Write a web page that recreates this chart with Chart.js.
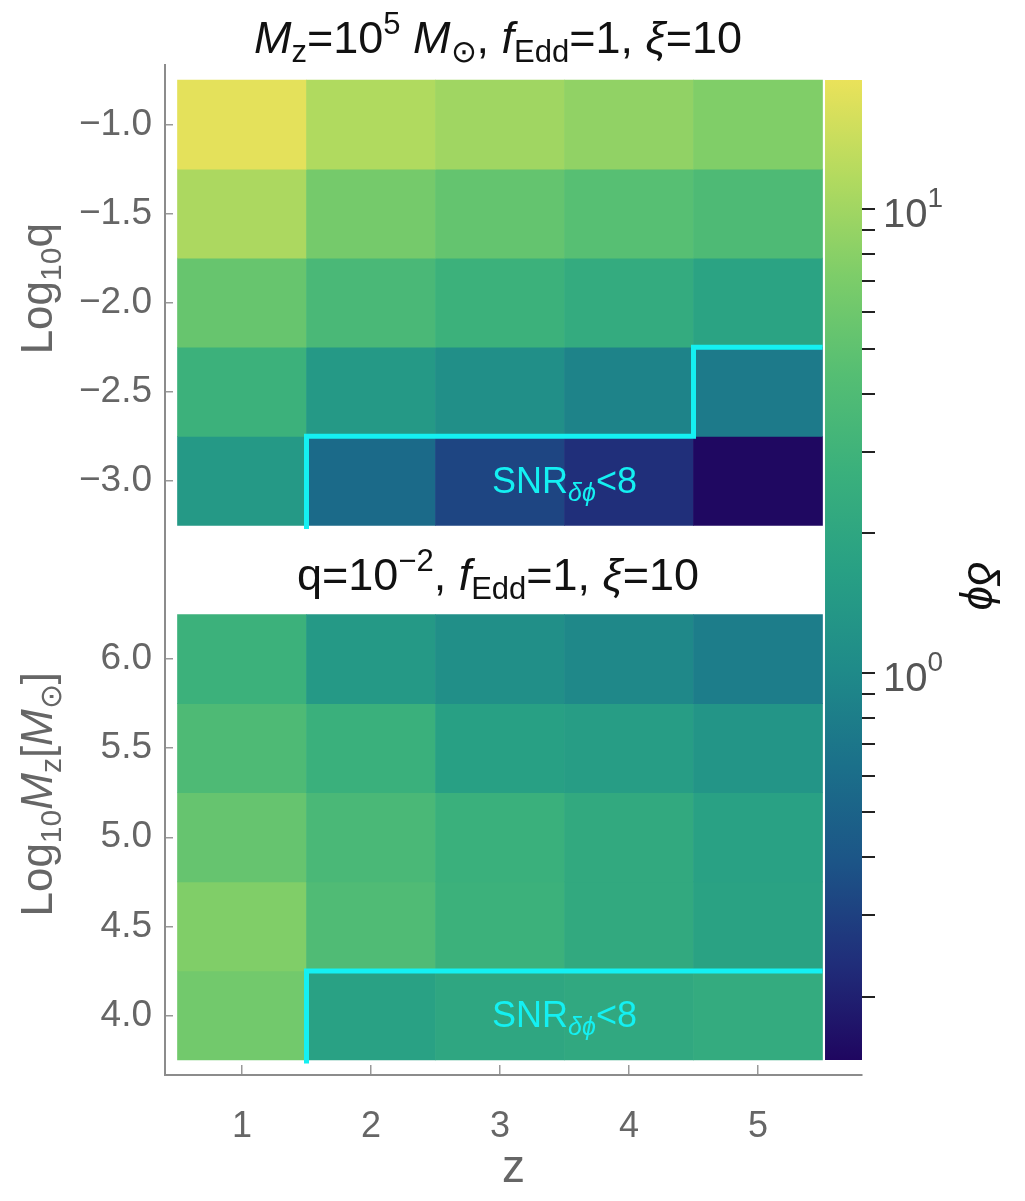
<!DOCTYPE html>
<html>
<head>
<meta charset="utf-8">
<script src="https://cdn.jsdelivr.net/npm/chart.js@4.4.1/dist/chart.umd.min.js"></script>
<style>
  html, body { margin: 0; padding: 0; background: #fff; }
</style>
</head>
<body>
<canvas id="chart" width="1025" height="1201"></canvas>
<script>
var redshifts = [1, 2, 3, 4, 5];
var logQ = [-1.0, -1.5, -2.0, -2.5, -3.0];
var logMass = [6.0, 5.5, 5.0, 4.5, 4.0];

// delta phi, Mz = 1e5 Msun (rows follow logQ, columns follow redshifts)
var dphiQ = [
    [18.0, 11.5, 9.9, 8.6, 7.4],
    [11.0, 6.5, 5.3, 4.5, 3.9],
    [5.5, 3.6, 2.8, 2.3, 1.8],
    [2.8, 1.43, 1.12, 0.88, 0.76],
    [1.43, 0.57, 0.32, 0.24, 0.15]
];
// delta phi, q = 1e-2 (rows follow logMass)
var dphiM = [
    [2.8, 1.43, 1.12, 0.97, 0.80],
    [3.9, 2.7, 1.65, 1.55, 1.3],
    [5.4, 3.6, 2.7, 2.2, 1.7],
    [7.4, 4.0, 2.8, 2.2, 1.75],
    [6.3, 1.7, 2.0, 2.1, 2.3]
];

// highest row with SNR < 8 for each redshift (null: none)
var snrCutQ = [null, -3.0, -3.0, -3.0, -2.5];
var snrCutM = [null, 4.0, 4.0, 4.0, 4.0];

var colorMin = 0.146, colorMax = 19.0;
var colorTicks = [0.2, 0.3, 0.4, 0.5, 0.6, 0.7, 0.8, 0.9, 1, 2, 3, 4, 5, 6, 7, 8, 9, 10];
var colorLabels = [1, 10];

var FONT = '"Liberation Sans", Arial, Helvetica, sans-serif';
var mapStops = ['#1f0660', '#202e7a', '#1c5487', '#1b708a', '#1f8b89', '#28a084',
                '#3ab07c', '#55be73', '#7dcd69', '#b2da5f', '#eae25a'];
var CYAN = '#14f0f2';
var cbarX = 5.663;   // colorbar centre on the z axis, just right of the heatmaps

function hexRgb(h) {
    return [parseInt(h.substr(1, 2), 16), parseInt(h.substr(3, 2), 16), parseInt(h.substr(5, 2), 16)];
}

function colorFor(v) {
    var t = (Math.log10(v) - Math.log10(colorMin)) / (Math.log10(colorMax) - Math.log10(colorMin));
    t = Math.max(0, Math.min(1, t)) * (mapStops.length - 1);
    var i = Math.min(Math.floor(t), mapStops.length - 2), f = t - i;
    var a = hexRgb(mapStops[i]), b = hexRgb(mapStops[i + 1]);
    return 'rgb(' + [0, 1, 2].map(function(k) { return Math.round(a[k] + (b[k] - a[k]) * f); }).join(',') + ')';
}

// both panels share one slot axis: 5 rows, one blank row, 5 rows
function posQ(q) { return (logQ[0] - q) / 0.5 + 0.5; }
function posM(m) { return logQ.length + 1 + (logMass[0] - m) / 0.5 + 0.5; }

var slotCount = logQ.length + 1 + logMass.length;
var slotPad = slotCount * 15 / 980;
var decPad = (Math.log10(colorMax) - Math.log10(colorMin)) * 15 / 980;

function fmt(v) { return (v < 0 ? '\u2212' : '') + Math.abs(v).toFixed(1); }
var yTickPos = logQ.map(posQ).concat(logMass.map(posM));
var yTickText = logQ.map(fmt).concat(logMass.map(fmt));

function rowDatasets(rows, values, posFn) {
    return rows.map(function(r, i) {
        var p = posFn(r);
        return {
            type: 'bar',
            order: 2,
            xAxisID: 'x',
            yAxisID: 'y',
            data: redshifts.map(function(z) { return { x: z, y: [p - 0.5, p + 0.5] }; }),
            backgroundColor: values[i].map(colorFor),
            borderWidth: 0,
            grouped: false,
            categoryPercentage: 1,
            barPercentage: 1
        };
    });
}

function contour(cuts, posFn, lastRow) {
    var pts = [];
    cuts.forEach(function(c, i) {
        if (c === null) return;
        var e = posFn(c) - 0.5;
        if (!pts.length) pts.push({ x: redshifts[i] - 0.5, y: posFn(lastRow) + 0.54 });
        pts.push({ x: redshifts[i] - 0.5, y: e }, { x: redshifts[i] + 0.5, y: e });
    });
    return pts;
}

function lineSet(pts) {
    return {
        type: 'line', order: 0, xAxisID: 'x', yAxisID: 'y', data: pts,
        borderColor: CYAN, borderWidth: 5, pointRadius: 0, tension: 0,
        fill: false, borderJoinStyle: 'miter', borderCapStyle: 'butt'
    };
}

// colorbar: one thick vertical stroke on the log scale, shaded with the colour map
var colorbarSet = {
    type: 'line', order: 3, xAxisID: 'x', yAxisID: 'yc',
    data: [{ x: cbarX, y: colorMin }, { x: cbarX, y: colorMax }],
    borderWidth: 37, borderCapStyle: 'butt', pointRadius: 0, fill: false,
    borderColor: function(c) {
        var sc = c.chart.scales.yc;
        if (!sc) return mapStops[4];
        var y0 = sc.getPixelForValue(colorMin), y1 = sc.getPixelForValue(colorMax);
        if (!isFinite(y0) || !isFinite(y1) || y0 === y1) return mapStops[4];
        var g = c.chart.ctx.createLinearGradient(0, y0, 0, y1);
        mapStops.forEach(function(s, i) { g.addColorStop(i / (mapStops.length - 1), s); });
        return g;
    }
};

// text pieces: [text, size, italic, dy]
function rich(ctx, parts, x, y, center) {
    var w = 0, widths = [];
    parts.forEach(function(p) {
        ctx.font = (p[2] ? 'italic ' : '') + p[1] + 'px ' + FONT;
        var m = ctx.measureText(p[0]).width;
        widths.push(m);
        w += m;
    });
    var cx = center ? x - w / 2 : x;
    parts.forEach(function(p, i) {
        ctx.font = (p[2] ? 'italic ' : '') + p[1] + 'px ' + FONT;
        ctx.fillText(p[0], cx, y + (p[3] || 0));
        cx += widths[i];
    });
}

var textPlugin = {
    id: 'texts',
    afterDatasetsDraw: function(chart) {
        var ctx = chart.ctx, xs = chart.scales.x, ys = chart.scales.y;
        ctx.save();
        ctx.textAlign = 'left';
        ctx.textBaseline = 'alphabetic';
        ctx.fillStyle = CYAN;
        [[snrCutQ, posQ, logQ], [snrCutM, posM, logMass]].forEach(function(s) {
            var cols = [];
            s[0].forEach(function(c, i) { if (c !== null) cols.push(redshifts[i]); });
            var cx = xs.getPixelForValue((cols[0] + cols[cols.length - 1]) / 2);
            var cy = ys.getPixelForValue(s[1](s[2][s[2].length - 1]));
            rich(ctx, [['SNR', 36], ['\u03b4\u03d5', 25, 1, 8], ['<8', 36]], cx, cy + 12, true);
        });
        ctx.restore();
    },
    afterDraw: function(chart) {
        var ctx = chart.ctx, ys = chart.scales.y, yc = chart.scales.yc;
        ctx.save();
        ctx.textAlign = 'left';
        ctx.textBaseline = 'alphabetic';
        ctx.fillStyle = '#111';
        rich(ctx, [['M', 45, 1], ['z', 31, 0, 9], ['=10', 45], ['5', 31, 0, -19], [' ', 45],
                   ['M', 45, 1], ['\u2299', 31, 0, 9], [', ', 45], ['f', 45, 1], ['Edd', 31, 0, 9],
                   ['=1, ', 45], ['\u03be', 45, 1], ['=10', 45]], 498, chart.chartArea.top - 12, true);
        rich(ctx, [['q=10', 45], ['\u22122', 31, 0, -19], [', ', 45], ['f', 45, 1], ['Edd', 31, 0, 9],
                   ['=1, ', 45], ['\u03be', 45, 1], ['=10', 45]], 498, ys.getPixelForValue(logQ.length + 0.5) + 20, true);

        // axis titles
        ctx.fillStyle = '#666';
        var midQ = (ys.getPixelForValue(posQ(logQ[0]) - 0.5) + ys.getPixelForValue(posQ(logQ[4]) + 0.5)) / 2;
        var midM = (ys.getPixelForValue(posM(logMass[0]) - 0.5) + ys.getPixelForValue(posM(logMass[4]) + 0.5)) / 2;
        ctx.save();
        ctx.translate(52, midQ - 14);
        ctx.rotate(-Math.PI / 2);
        rich(ctx, [['Log', 44], ['10', 30, 0, 9], ['q', 44]], 0, 0, true);
        ctx.restore();
        ctx.save();
        ctx.translate(52, midM - 43);
        ctx.rotate(-Math.PI / 2);
        rich(ctx, [['Log', 44], ['10', 30, 0, 9], ['M', 44, 1], ['z', 30, 0, 9], ['[', 44],
                   ['M', 44, 1], ['\u2299', 30, 0, 9], [']', 44]], 0, 0, true);
        ctx.restore();

        // colorbar labels and title
        ctx.fillStyle = '#555';
        colorLabels.forEach(function(v) {
            var py = yc.getPixelForValue(v);
            rich(ctx, [['10', 40], [String(Math.round(Math.log10(v))), 28, 0, -20]], yc.left + 21, py + 18, false);
        });
        ctx.fillStyle = '#111';
        ctx.save();
        ctx.translate(968, (chart.chartArea.top + chart.chartArea.bottom) / 2 + 16);
        ctx.rotate(Math.PI / 2);
        rich(ctx, [['\u03b4\u03d5', 44, 1]], 0, 0, true);
        ctx.restore();
        ctx.restore();
    }
};

var datasets = [lineSet(contour(snrCutQ, posQ, logQ[logQ.length - 1])),
                lineSet(contour(snrCutM, posM, logMass[logMass.length - 1]))]
    .concat(rowDatasets(logQ, dphiQ, posQ))
    .concat(rowDatasets(logMass, dphiM, posM))
    .concat([colorbarSet]);

new Chart(document.getElementById('chart'), {
    type: 'bar',
    data: { datasets: datasets },
    options: {
        responsive: false,
        animation: false,
        devicePixelRatio: 1,
        layout: { padding: { top: 65, left: 0, right: 0, bottom: 0 } },
        plugins: { legend: { display: false }, tooltip: { enabled: false } },
        scales: {
            x: {
                type: 'linear', position: 'bottom', offset: false,
                min: 0.5 - 12.5 / 129, max: 0.5 - 12.5 / 129 + 697 / 129,
                afterBuildTicks: function(s) { s.ticks = redshifts.map(function(z) { return { value: z }; }); },
                afterFit: function(s) { s.height = 126; },
                ticks: { padding: 40, color: '#666', font: { family: FONT, size: 36 }, maxRotation: 0,
                         callback: function(v) { return String(v); } },
                grid: { offset: false, drawOnChartArea: false, tickLength: -10, color: '#999', lineWidth: 1.5 },
                border: { color: '#8c8c8c', width: 2 },
                title: { display: true, text: 'z', color: '#666', font: { family: FONT, size: 46 },
                         padding: { top: 0, bottom: 4 } }
            },
            y: {
                type: 'linear', position: 'left', reverse: true, beginAtZero: false,
                min: -slotPad, max: slotCount + slotPad,
                afterBuildTicks: function(s) { s.ticks = yTickPos.map(function(p) { return { value: p }; }); },
                afterFit: function(s) { s.width = 165; },
                ticks: { padding: 21, color: '#666', font: { family: FONT, size: 37 }, autoSkip: false,
                         callback: function(v, i) { return yTickText[i]; } },
                grid: { drawOnChartArea: false, tickLength: -8, color: '#999', lineWidth: 1.5 },
                border: { color: '#8c8c8c', width: 2 }
            },
            yc: {
                type: 'logarithmic', position: 'right', beginAtZero: false,
                min: Math.pow(10, Math.log10(colorMin) - decPad),
                max: Math.pow(10, Math.log10(colorMax) + decPad),
                afterBuildTicks: function(s) { s.ticks = colorTicks.map(function(v) { return { value: v }; }); },
                afterFit: function(s) { s.width = 163; },
                ticks: { callback: function() { return ''; } },
                grid: { drawOnChartArea: false, tickLength: 13, color: '#222', lineWidth: 2 },
                border: { display: false }
            }
        }
    },
    plugins: [textPlugin]
});
</script>
</body>
</html>
